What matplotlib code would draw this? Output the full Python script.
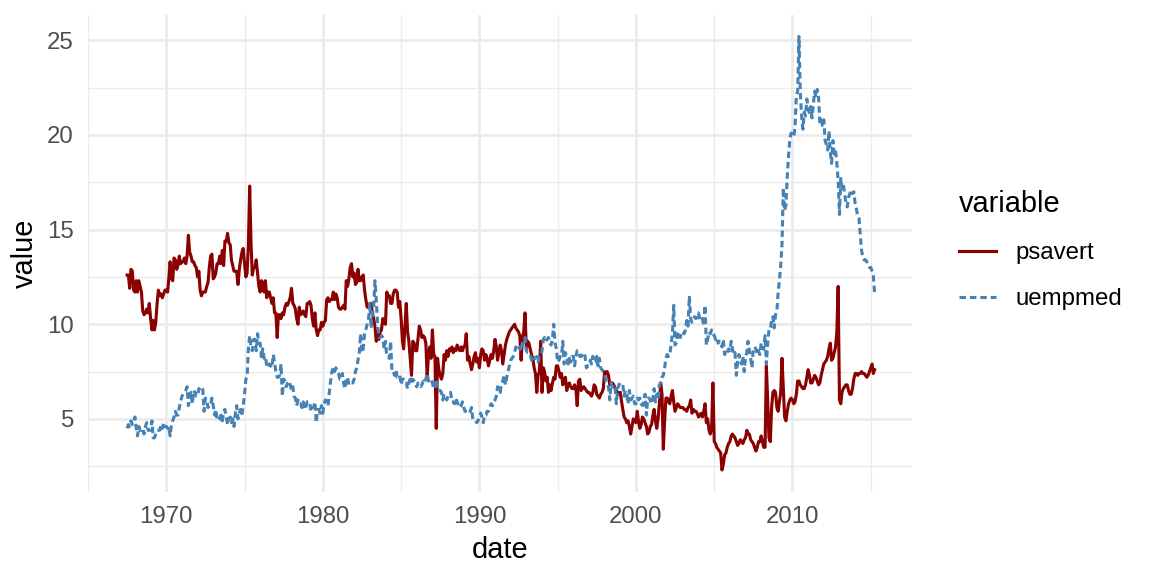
import matplotlib
matplotlib.use("Agg")
import matplotlib.pyplot as plt
import matplotlib.dates as mdates
import numpy as np
import pandas as pd
from datetime import datetime

plt.rcParams['font.family'] = ['Liberation Sans', 'DejaVu Sans']

# ---- data: monthly, 1967-07 .. 2015-04 ----
start_month = "1967-07-01"

psavert = [
    12.6, 12.6, 11.9, 12.9, 12.8, 11.8,                                   # 1967 (Jul-Dec)
    11.7, 12.3, 11.7, 12.3, 12.0, 11.7, 10.7, 10.5, 10.6, 10.8, 10.6, 11.1,  # 1968
    10.3, 9.7, 10.2, 9.7, 10.1, 11.1, 11.8, 11.5, 11.6, 11.4, 11.6, 11.8,    # 1969
    11.8, 11.7, 12.4, 13.3, 12.4, 12.3, 13.5, 13.4, 12.9, 13.1, 13.6, 13.2,  # 1970
    13.3, 13.3, 13.5, 13.2, 13.6, 14.7, 13.8, 13.6, 13.3, 13.3, 13.1, 13.0,  # 1971
    12.5, 12.8, 11.8, 11.5, 11.7, 11.7, 11.7, 12.0, 12.2, 13.0, 13.6, 13.7,  # 1972
    12.4, 12.5, 12.7, 13.2, 13.2, 13.6, 13.2, 13.9, 13.1, 14.4, 14.4, 14.8,  # 1973
    14.3, 14.2, 13.4, 13.1, 12.8, 12.8, 12.8, 12.1, 12.9, 13.4, 13.8, 14.0,  # 1974
    13.2, 12.5, 12.7, 14.2, 17.3, 14.3, 12.6, 13.0, 13.0, 13.4, 12.7, 12.0,  # 1975
    11.7, 12.3, 12.2, 11.7, 12.3, 11.4, 11.7, 11.7, 11.4, 11.1, 11.4, 10.6,  # 1976
    10.6, 9.3, 10.5, 10.5, 10.3, 10.6, 10.5, 10.9, 11.1, 11.0, 11.2, 11.4,   # 1977
    11.9, 11.1, 11.0, 10.8, 10.3, 10.0, 10.9, 10.5, 10.6, 10.7, 10.5, 10.4,  # 1978
    11.1, 11.1, 11.2, 11.0, 10.3, 9.9, 10.6, 9.7, 9.4, 9.7, 9.7, 10.1,       # 1979
    9.9, 10.1, 10.2, 11.3, 11.4, 11.2, 11.3, 11.3, 11.7, 11.3, 11.6, 11.4,   # 1980
    10.9, 10.8, 10.8, 10.9, 11.0, 10.8, 12.3, 12.0, 12.4, 13.0, 13.2, 12.5,  # 1981
    12.7, 12.1, 12.2, 12.9, 12.3, 12.3, 12.5, 12.6, 11.8, 11.3, 10.9, 10.9,  # 1982
    11.1, 11.1, 10.6, 10.3, 9.9, 9.1, 9.6, 9.2, 9.6, 9.7, 10.3, 10.1,        # 1983
    10.0, 11.7, 11.5, 11.5, 11.1, 11.1, 11.6, 11.8, 11.8, 11.7, 10.9, 11.2,  # 1984
    10.3, 9.1, 8.7, 9.9, 11.1, 9.6, 9.1, 8.2, 7.3, 9.1, 9.0, 8.6,            # 1985
    8.6, 9.3, 9.9, 9.7, 9.3, 9.4, 9.3, 9.0, 7.2, 8.4, 8.8, 8.2,              # 1986
    9.7, 8.4, 8.3, 4.5, 8.2, 7.6, 7.3, 7.1, 7.4, 8.4, 8.1, 8.6,              # 1987
    8.3, 8.7, 8.6, 8.8, 8.5, 8.7, 8.6, 8.9, 8.7, 8.6, 8.8, 8.6,              # 1988
    8.8, 8.9, 9.5, 8.1, 8.3, 7.9, 7.6, 7.9, 8.3, 8.5, 8.0, 8.2,              # 1989
    7.7, 8.4, 8.7, 8.6, 8.1, 8.4, 8.2, 7.8, 8.1, 8.4, 8.2, 8.6,              # 1990
    9.2, 8.8, 8.1, 8.5, 8.9, 8.6, 7.9, 8.4, 8.9, 9.2, 9.4, 9.6,              # 1991
    9.7, 9.8, 9.9, 10.0, 9.8, 9.7, 9.6, 9.4, 8.1, 9.3, 9.6, 10.6,            # 1992
    8.7, 9.1, 9.0, 8.7, 8.4, 8.2, 7.7, 7.4, 6.4, 7.3, 7.5, 9.1,              # 1993
    6.4, 7.7, 7.5, 7.0, 7.2, 6.4, 6.8, 6.5, 6.9, 7.2, 7.1, 7.8,              # 1994
    7.8, 7.5, 7.2, 7.4, 6.8, 7.1, 7.2, 6.5, 6.8, 6.9, 6.7, 6.6,              # 1995
    6.6, 6.8, 6.6, 5.7, 7.0, 7.1, 6.5, 6.6, 6.7, 6.6, 6.5, 6.4,              # 1996
    6.4, 6.3, 6.2, 6.4, 6.8, 6.7, 6.3, 6.2, 6.1, 6.3, 6.4, 6.6,              # 1997
    7.5, 7.4, 7.5, 7.3, 6.8, 6.9, 6.9, 6.8, 6.6, 6.5, 6.4, 6.3,              # 1998
    6.4, 5.9, 5.5, 5.1, 5.0, 4.8, 4.9, 4.6, 4.2, 4.6, 5.0, 4.9,              # 1999
    4.8, 5.4, 4.9, 4.5, 4.7, 5.1, 5.0, 4.8, 4.6, 4.2, 4.3, 4.6,              # 2000
    4.7, 5.2, 5.5, 4.9, 4.5, 5.0, 5.8, 6.9, 6.3, 3.4, 4.9, 6.1,              # 2001
    6.1, 5.9, 5.8, 6.2, 6.5, 5.9, 5.4, 5.6, 5.8, 5.7, 5.6, 5.6,              # 2002
    5.6, 5.5, 5.5, 5.4, 5.6, 5.7, 6.0, 5.3, 5.5, 5.4, 5.4, 5.3,              # 2003
    5.1, 5.2, 5.3, 5.1, 5.4, 5.8, 4.8, 5.0, 4.4, 4.2, 4.5, 6.9,              # 2004
    3.8, 3.7, 3.5, 3.4, 3.3, 3.2, 2.3, 2.6, 3.1, 3.2, 3.5, 3.7,              # 2005
    3.8, 4.1, 4.2, 4.1, 4.0, 3.8, 3.6, 3.7, 3.9, 3.8, 3.7, 3.9,              # 2006
    4.0, 4.4, 4.2, 4.2, 3.9, 3.8, 3.7, 3.5, 3.3, 3.5, 3.8, 3.8,              # 2007
    4.1, 3.8, 3.5, 3.5, 7.8, 6.0, 4.0, 3.8, 5.6, 6.4, 6.5, 6.4,              # 2008
    5.6, 5.4, 5.9, 6.4, 8.2, 6.6, 5.1, 4.9, 5.4, 5.8, 6.0, 6.1,              # 2009
    6.0, 5.8, 5.9, 6.3, 7.0, 7.0, 6.8, 6.7, 6.6, 6.6, 6.8, 7.2,              # 2010
    7.6, 7.3, 6.9, 6.9, 7.1, 7.3, 7.2, 7.0, 6.8, 6.9, 7.3, 7.6,              # 2011
    7.9, 8.0, 8.1, 8.3, 8.7, 9.0, 8.1, 8.2, 8.5, 8.8, 9.6, 12.0,             # 2012
    6.0, 5.8, 6.4, 6.6, 6.7, 6.8, 6.8, 6.5, 6.3, 6.3, 6.6, 7.1,              # 2013
    7.4, 7.4, 7.3, 7.4, 7.4, 7.5, 7.4, 7.4, 7.3, 7.2, 7.3, 7.5,              # 2014
    7.7, 7.9, 7.4, 7.6,                                                      # 2015 (Jan-Apr)
]

uempmed = [
    4.5, 4.7, 4.6, 4.9, 4.7, 4.8,                                            # 1967
    5.1, 4.5, 4.1, 4.6, 4.4, 4.4, 4.5, 4.2, 4.6, 4.8, 4.4, 4.4,              # 1968
    4.4, 4.9, 4.0, 4.0, 4.2, 4.4, 4.4, 4.4, 4.7, 4.5, 4.8, 4.6,              # 1969
    4.6, 4.5, 4.6, 4.1, 4.7, 4.9, 5.1, 5.4, 5.2, 5.2, 5.6, 5.9,              # 1970
    6.2, 6.3, 6.4, 6.5, 6.7, 5.7, 6.2, 6.4, 5.8, 6.5, 6.4, 6.2,              # 1971
    6.2, 6.6, 6.6, 6.7, 6.6, 5.4, 6.1, 6.0, 5.6, 5.7, 5.7, 6.1,              # 1972
    5.7, 5.2, 5.5, 5.0, 4.9, 5.0, 5.2, 4.9, 5.4, 5.5, 5.1, 4.7,              # 1973
    5.0, 5.1, 4.8, 5.0, 4.6, 5.3, 5.7, 5.0, 5.3, 5.5, 5.2, 5.7,              # 1974
    6.3, 7.1, 7.2, 8.7, 9.4, 8.8, 8.6, 9.2, 9.2, 8.6, 9.5, 9.0,              # 1975
    9.0, 8.2, 8.7, 8.2, 8.3, 7.8, 7.7, 7.9, 7.8, 7.7, 8.4, 8.0,              # 1976
    7.5, 7.2, 7.2, 7.3, 7.9, 6.2, 7.1, 7.0, 6.7, 6.9, 7.0, 6.8,              # 1977
    6.5, 6.7, 6.2, 6.1, 5.7, 6.0, 5.8, 5.8, 5.6, 5.9, 5.5, 5.6,              # 1978
    5.9, 5.9, 5.9, 5.4, 5.6, 5.6, 5.9, 4.8, 5.5, 5.5, 5.3, 5.7,              # 1979
    5.3, 5.8, 6.0, 5.8, 5.7, 6.4, 7.0, 7.5, 7.7, 7.5, 7.7, 7.5,              # 1980
    7.4, 7.1, 7.1, 7.4, 6.9, 6.6, 7.1, 7.2, 6.8, 6.8, 6.9, 6.9,              # 1981
    7.1, 7.5, 7.7, 8.1, 8.5, 9.5, 8.5, 8.7, 9.5, 9.7, 10.0, 10.2,            # 1982
    11.1, 9.8, 10.4, 10.9, 12.3, 11.3, 10.1, 9.3, 9.3, 9.4, 9.3, 8.7,        # 1983
    9.1, 8.3, 8.3, 8.2, 9.1, 7.5, 7.5, 7.3, 7.6, 7.2, 7.2, 7.3,              # 1984
    6.8, 7.1, 7.1, 6.9, 6.9, 6.6, 6.9, 7.1, 6.9, 7.1, 7.0, 6.8,              # 1985
    6.7, 6.9, 6.8, 6.7, 6.8, 7.0, 6.9, 7.1, 7.4, 7.0, 7.1, 7.1,              # 1986
    6.9, 6.6, 6.6, 7.1, 6.6, 6.5, 6.5, 6.4, 6.0, 6.3, 6.2, 6.0,              # 1987
    6.2, 6.3, 6.4, 5.9, 5.9, 5.8, 6.1, 5.9, 5.7, 5.6, 5.7, 5.9,              # 1988
    5.6, 5.4, 5.4, 5.4, 5.3, 5.4, 5.6, 5.0, 4.9, 4.9, 4.8, 4.9,              # 1989
    5.1, 5.3, 5.1, 4.8, 5.2, 5.2, 5.4, 5.4, 5.6, 5.8, 5.7, 5.9,              # 1990
    6.0, 6.2, 6.7, 6.6, 6.4, 6.9, 7.0, 7.3, 6.8, 7.2, 7.5, 7.8,              # 1991
    8.1, 8.2, 8.3, 8.5, 8.8, 8.7, 8.6, 8.8, 8.6, 9.0, 9.0, 9.3,              # 1992
    8.6, 8.5, 8.5, 8.4, 8.1, 8.3, 8.2, 8.2, 8.3, 8.0, 8.3, 8.3,              # 1993
    8.6, 9.2, 9.3, 9.1, 9.2, 9.3, 9.0, 8.9, 9.2, 10.0, 9.0, 8.7,             # 1994
    8.0, 8.1, 8.3, 8.3, 9.1, 7.9, 8.5, 8.3, 7.9, 8.2, 8.0, 8.3,              # 1995
    8.3, 7.8, 8.3, 8.6, 8.6, 8.3, 8.3, 8.4, 8.5, 8.3, 7.7, 7.8,              # 1996
    7.8, 8.1, 7.9, 8.3, 8.0, 8.0, 8.3, 7.8, 8.2, 7.7, 7.6, 7.5,              # 1997
    7.4, 7.0, 6.8, 6.7, 6.0, 6.9, 6.7, 6.8, 6.7, 5.8, 6.6, 6.8,              # 1998
    6.9, 6.8, 6.8, 6.2, 6.5, 6.3, 5.8, 6.5, 6.0, 6.1, 6.2, 5.8,              # 1999
    5.8, 6.1, 6.0, 6.1, 5.8, 5.7, 6.0, 6.3, 5.2, 6.1, 6.1, 6.0,              # 2000
    5.8, 6.1, 6.6, 5.9, 6.3, 6.0, 6.8, 6.9, 7.2, 7.3, 7.7, 8.2,              # 2001
    8.4, 8.3, 8.4, 8.9, 9.5, 11.0, 8.9, 9.0, 9.5, 9.6, 9.3, 9.6,             # 2002
    9.6, 9.5, 9.7, 10.2, 9.9, 11.5, 10.3, 10.1, 10.2, 10.4, 10.3, 10.4,      # 2003
    10.6, 10.2, 10.2, 10.3, 9.9, 11.0, 8.9, 9.2, 9.6, 9.5, 9.7, 9.5,         # 2004
    9.4, 9.2, 9.3, 9.0, 9.1, 9.0, 8.8, 9.2, 8.4, 8.6, 8.5, 8.7,              # 2005
    8.6, 9.1, 8.7, 8.4, 8.5, 7.3, 8.0, 8.4, 8.0, 7.9, 8.3, 7.5,              # 2006
    8.3, 8.5, 9.1, 8.6, 8.2, 7.7, 8.7, 8.8, 8.7, 8.4, 8.6, 8.4,              # 2007
    9.0, 8.7, 8.7, 9.4, 7.9, 9.0, 9.7, 9.7, 10.2, 10.4, 9.8, 10.5,           # 2008
    10.7, 11.7, 12.3, 13.1, 14.2, 17.2, 16.0, 16.3, 17.8, 18.9, 19.8, 20.1,  # 2009
    20.0, 19.9, 20.4, 22.1, 22.3, 25.2, 22.3, 21.0, 20.3, 21.2, 21.0, 21.9,  # 2010
    21.5, 21.1, 21.5, 20.9, 21.6, 22.3, 22.0, 22.4, 22.0, 20.6, 20.8, 20.5,  # 2011
    20.8, 19.7, 19.5, 19.2, 20.2, 19.1, 18.5, 19.7, 19.0, 19.2, 18.5, 17.6,  # 2012
    15.8, 17.7, 17.2, 17.4, 16.9, 16.4, 16.2, 16.7, 16.9, 17.1, 16.9, 17.0,  # 2013
    16.4, 16.1, 15.7, 15.6, 14.7, 13.9, 13.5, 13.4, 13.4, 13.3, 13.1, 13.0,  # 2014
    13.0, 12.8, 12.6, 11.6,                                                  # 2015
]

series_names = ["psavert", "uempmed"]
series_colors = ["#8B0000", "#4682B4"]
major_years = [1970, 1980, 1990, 2000, 2010]
minor_years = [1965, 1975, 1985, 1995, 2005, 2015]
y_major = [5, 10, 15, 20, 25]
y_minor = [2.5, 7.5, 12.5, 17.5, 22.5]

dates = pd.date_range(start_month, periods=len(psavert), freq="MS")

# ---- figure ----
W, H = 1152, 576
fig = plt.figure(figsize=(8, 4), dpi=144)
ax = fig.add_axes([88 / W, 1 - 491.7 / H, (912 - 88) / W, (491.7 - 14.8) / H])

lw = 1.55
ax.plot(dates, psavert, color=series_colors[0], lw=lw, solid_joinstyle="round",
        label=series_names[0], zorder=3)
ax.plot(dates, uempmed, color=series_colors[1], lw=lw, linestyle=(0, (2.1, 1.25)),
        dash_capstyle="butt", label=series_names[1], zorder=3)

# ggplot-like expansion (5%)
d0, d1 = mdates.date2num(dates[0]), mdates.date2num(dates[-1])
span = d1 - d0
ax.set_xlim(d0 - 0.05 * span, d1 + 0.05 * span)
allv = np.array(psavert + uempmed)
vr = allv.max() - allv.min()
ax.set_ylim(allv.min() - 0.05 * vr, allv.max() + 0.05 * vr)

ax.set_xticks([mdates.date2num(datetime(y, 1, 1)) for y in major_years])
ax.set_xticklabels([str(y) for y in major_years])
ax.set_xticks([mdates.date2num(datetime(y, 1, 1)) for y in minor_years], minor=True)
ax.set_yticks(y_major)
ax.set_yticklabels([str(v) for v in y_major])
ax.set_yticks(y_minor, minor=True)

grid_col = "#EBEBEB"
ax.grid(which="major", color=grid_col, lw=1.4, zorder=0)
ax.grid(which="minor", color=grid_col, lw=0.7, zorder=0)
ax.set_axisbelow(True)
for s in ax.spines.values():
    s.set_visible(False)
ax.tick_params(which="both", length=0)
ax.tick_params(axis="x", pad=7, labelsize=12, labelcolor="#4D4D4D")
ax.tick_params(axis="y", pad=7, labelsize=12, labelcolor="#4D4D4D")

ax.set_xlabel("date", fontsize=14.5, color="black", labelpad=4)
ax.set_ylabel("value", fontsize=14.5, color="black", labelpad=4)

leg = ax.legend(title="variable", loc="upper left",
                bbox_to_anchor=(959 / W, 1 - 190 / H), bbox_transform=fig.transFigure,
                frameon=False, fontsize=12, title_fontsize=14.5,
                handlelength=1.55, handletextpad=0.8, labelspacing=1.0,
                borderaxespad=0, borderpad=0)
leg._legend_box.align = "left"

fig.savefig("out.png", dpi=144)
